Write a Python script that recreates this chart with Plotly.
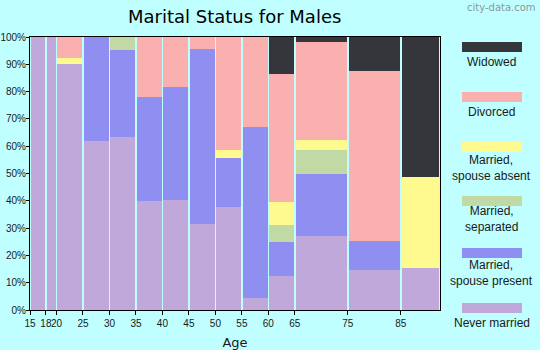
import plotly.graph_objects as go

# ---- data ----
age_edges = [15, 18, 20, 25, 30, 35, 40, 45, 50, 55, 60, 65, 75, 85, 92.4]
tick_vals = [15, 18, 20, 25, 30, 35, 40, 45, 50, 55, 60, 65, 75, 85]
tick_text = ["15", "18", "20", "25", "30", "35", "40", "45", "50", "55", "60", "65", "75", "85"]

never_married = [100, 100, 90.0, 62.0, 63.4, 39.9, 40.3, 31.5, 37.7, 4.4, 12.5, 27.1, 14.7, 15.4]
spouse_present = [0, 0, 0, 38.0, 31.8, 38.1, 41.4, 64.1, 18.0, 62.6, 12.4, 22.7, 10.6, 0]
separated = [0, 0, 0, 0, 4.8, 0, 0, 0, 0, 0, 6.2, 8.8, 0, 0]
spouse_absent = [0, 0, 2.3, 0, 0, 0, 0, 0, 2.9, 0, 8.5, 3.7, 0, 33.3]
divorced = [0, 0, 7.7, 0, 0, 22.0, 18.3, 4.4, 41.4, 33.0, 46.8, 35.9, 62.2, 0]
widowed = [0, 0, 0, 0, 0, 0, 0, 0, 0, 0, 13.6, 1.8, 12.5, 51.3]

series = [
    ("Never married", never_married, "#c0a8da"),
    ("Married,<br>spouse present", spouse_present, "#8f8ff2"),
    ("Married,<br>separated", separated, "#c1d9a5"),
    ("Married,<br>spouse absent", spouse_absent, "#fffa90"),
    ("Divorced", divorced, "#f9b0ae"),
    ("Widowed", widowed, "#35363c"),
]

BG = "#bfffff"
GAP = 0.28
mids = [(a + b) / 2 for a, b in zip(age_edges[:-1], age_edges[1:])]
widths = [(b - a) - GAP for a, b in zip(age_edges[:-1], age_edges[1:])]

fig = go.Figure()
for name, vals, col in series:
    fig.add_trace(go.Bar(
        x=mids, y=[v / 100 for v in vals], width=widths,
        name=name, marker=dict(color=col, line=dict(width=0)),
        showlegend=False, hoverinfo="skip",
    ))

W, H = 540, 350
L, R, T, B = 30, 100, 37, 40
pw, ph = W - L - R, H - T - B


def px(x, y):
    return (x - L) / pw, 1 - (y - T) / ph


shapes = []
annotations = []
legend_items = [
    ("Widowed", "#35363c", 42, [62]),
    ("Divorced", "#f9b0ae", 92, [112]),
    ("Married,<br>spouse absent", "#fffa90", 142, [168]),
    ("Married,<br>separated", "#c1d9a5", 196, [219]),
    ("Married,<br>spouse present", "#8f8ff2", 248, [273]),
    ("Never married", "#c0a8da", 303, [323]),
]
for label, col, sy, ty in legend_items:
    x0, y0 = px(462, sy)
    x1, y1 = px(522, sy + 10)
    shapes.append(dict(type="rect", xref="paper", yref="paper", x0=x0, x1=x1, y0=y1, y1=y0,
                       fillcolor=col, line=dict(width=0)))
    ax, ay = px(492, ty[0])
    annotations.append(dict(xref="paper", yref="paper", x=ax, y=ay, text=label, showarrow=False,
                            xanchor="center", yanchor="middle", align="center",
                            font=dict(family="Liberation Sans, Arial", size=12, color="#1a1a1a")))

tx, ty_ = px(234, 16)
annotations.append(dict(xref="paper", yref="paper", x=tx, y=ty_, text="Marital Status for Males",
                        showarrow=False, xanchor="center", yanchor="middle",
                        font=dict(family="DejaVu Sans, Verdana", size=18, color="#000000")))
wx, wy = px(538, 8)
annotations.append(dict(xref="paper", yref="paper", x=wx, y=wy, text="city-data.com",
                        showarrow=False, xanchor="right", yanchor="middle",
                        font=dict(family="DejaVu Sans, Verdana", size=10, color="#8a9a9a")))

TICKF = "Liberation Sans, Arial"
fig.update_layout(
    width=W, height=H, barmode="stack", bargap=0,
    paper_bgcolor=BG, plot_bgcolor=BG,
    margin=dict(l=L, r=R, t=T, b=B, autoexpand=False),
    shapes=shapes, annotations=annotations,
    font=dict(family="Liberation Sans, Arial", size=10, color="#1a1a1a"),
    xaxis=dict(range=[age_edges[0], age_edges[-1]], tickvals=tick_vals, ticktext=tick_text,
               showgrid=False, zeroline=False, showline=True, linecolor="black", linewidth=1,
               mirror=True, ticks="outside", ticklen=4, tickcolor="black", tickangle=0,
               automargin=False, tickfont=dict(size=10, family=TICKF),
               title=dict(text="Age", font=dict(size=13, family="DejaVu Sans, Verdana"), standoff=15)),
    yaxis=dict(range=[0, 1], dtick=0.1, tickformat=".0%", showgrid=False, zeroline=False,
               showline=True, linecolor="black", linewidth=1, mirror=True, automargin=False,
               ticks="outside", ticklen=3, tickcolor="black", ticklabelstandoff=-2,
               tickfont=dict(size=10, family=TICKF)),
)

fig.write_html("out.html")
